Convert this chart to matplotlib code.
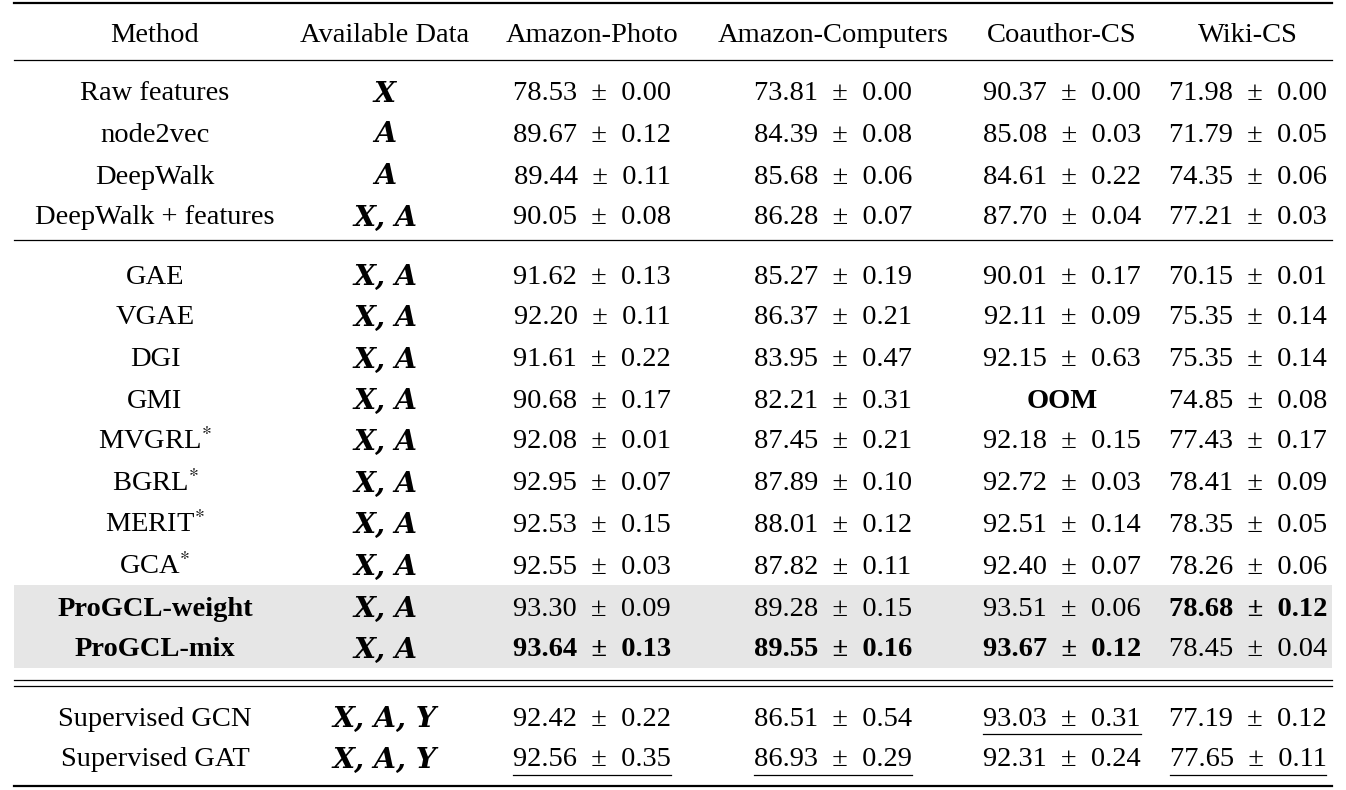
import matplotlib
matplotlib.use("Agg")
import matplotlib.pyplot as plt
from matplotlib.patches import Rectangle

plt.rcParams['font.family'] = ['Liberation Serif', 'DejaVu Serif']
plt.rcParams['mathtext.fontset'] = 'stix'

headers = ["Method", "Available Data", "Amazon-Photo", "Amazon-Computers", "Coauthor-CS", "Wiki-CS"]
methods = ["Raw features", "node2vec", "DeepWalk", "DeepWalk + features",
           "GAE", "VGAE", "DGI", "GMI", "MVGRL$^{*}$", "BGRL$^{*}$", "MERIT$^{*}$", "GCA$^{*}$",
           "ProGCL-weight", "ProGCL-mix", "Supervised GCN", "Supervised GAT"]
avail = ["X", "A", "A", "X, A"] + ["X, A"] * 10 + ["X, A, Y"] * 2
photo = ["78.53 ± 0.00", "89.67 ± 0.12", "89.44 ± 0.11", "90.05 ± 0.08", "91.62 ± 0.13",
         "92.20 ± 0.11", "91.61 ± 0.22", "90.68 ± 0.17", "92.08 ± 0.01", "92.95 ± 0.07",
         "92.53 ± 0.15", "92.55 ± 0.03", "93.30 ± 0.09", "93.64 ± 0.13", "92.42 ± 0.22", "92.56 ± 0.35"]
computers = ["73.81 ± 0.00", "84.39 ± 0.08", "85.68 ± 0.06", "86.28 ± 0.07", "85.27 ± 0.19",
             "86.37 ± 0.21", "83.95 ± 0.47", "82.21 ± 0.31", "87.45 ± 0.21", "87.89 ± 0.10",
             "88.01 ± 0.12", "87.82 ± 0.11", "89.28 ± 0.15", "89.55 ± 0.16", "86.51 ± 0.54", "86.93 ± 0.29"]
cs = ["90.37 ± 0.00", "85.08 ± 0.03", "84.61 ± 0.22", "87.70 ± 0.04", "90.01 ± 0.17",
      "92.11 ± 0.09", "92.15 ± 0.63", "OOM", "92.18 ± 0.15", "92.72 ± 0.03",
      "92.51 ± 0.14", "92.40 ± 0.07", "93.51 ± 0.06", "93.67 ± 0.12", "93.03 ± 0.31", "92.31 ± 0.24"]
wiki = ["71.98 ± 0.00", "71.79 ± 0.05", "74.35 ± 0.06", "77.21 ± 0.03", "70.15 ± 0.01",
        "75.35 ± 0.14", "75.35 ± 0.14", "74.85 ± 0.08", "77.43 ± 0.17", "78.41 ± 0.09",
        "78.35 ± 0.05", "78.26 ± 0.06", "78.68 ± 0.12", "78.45 ± 0.04", "77.19 ± 0.12", "77.65 ± 0.11"]
# (row, col) cells in bold / underlined
bold_cells = {(7, 4), (12, 0), (13, 0), (13, 2), (13, 3), (13, 4), (12, 5)}
underline_cells = {(15, 2), (15, 3), (14, 4), (15, 5)}

fig = plt.figure(figsize=(13.46, 7.9), dpi=100)
ax = fig.add_axes([0, 0, 1, 1])
ax.set_xlim(0, 1346)
ax.set_ylim(790, 0)
ax.axis('off')

col_x = [155, 385, 592, 833, 1062, 1248]
row_y = [91, 132, 174, 215, 274, 315, 357, 398, 439, 481, 522, 564, 606, 647, 716, 757]
fs = 20.5

ax.add_patch(Rectangle((14, 585), 1318, 83, color='#e6e6e6', lw=0, zorder=0))
for y, lw in [(3, 1.6), (60, 0.9), (240, 0.9), (680, 0.9), (686, 0.9), (786, 1.6)]:
    ax.plot([14, 1332], [y, y], color='black', lw=lw)

for x, h in zip(col_x, headers):
    ax.text(x, 32, h, ha='center', va='center_baseline', fontsize=fs)

cols = [methods, avail, photo, computers, cs, wiki]
texts = []
for c, col in enumerate(cols):
    for r, val in enumerate(col):
        if c == 1:
            t = ax.text(col_x[c], row_y[r], val, ha='center', va='center_baseline', fontsize=fs,
                        fontstyle='italic', fontweight='bold', family='DejaVu Serif')
        else:
            if c >= 2:
                val = val.replace(" ± ", "  ±  ")
            t = ax.text(col_x[c], row_y[r], val, ha='center', va='center_baseline', fontsize=fs,
                        fontweight='bold' if (r, c) in bold_cells else 'normal')
        if (r, c) in underline_cells:
            texts.append(t)

fig.canvas.draw()
inv = ax.transData.inverted()
for t in texts:
    bb = t.get_window_extent()
    (x0, y0), (x1, y1) = inv.transform([[bb.x0, bb.y0], [bb.x1, bb.y1]])
    ax.plot([x0, x1], [y0 + 2, y0 + 2], color='black', lw=0.9)

fig.savefig("out.png", dpi=100)
